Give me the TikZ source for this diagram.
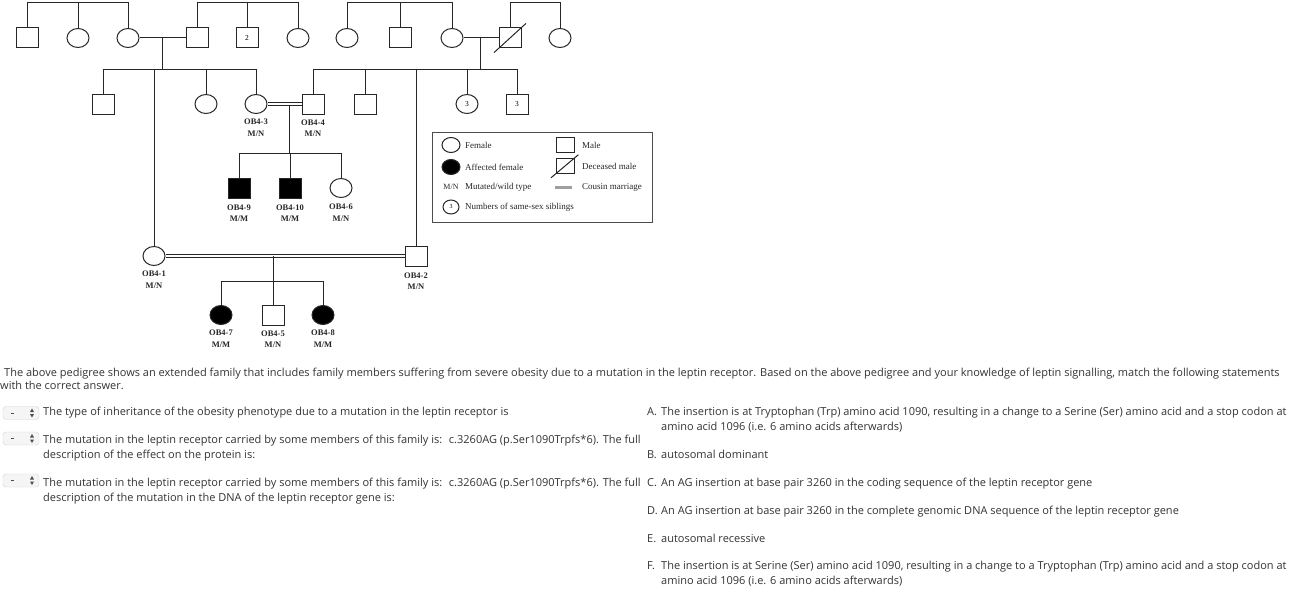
\documentclass[tikz,border=0pt]{standalone}
\usepackage{fontspec}
\setmainfont{Liberation Serif}
\newfontfamily\qfont{Open Sans}
\usetikzlibrary{shapes.geometric,positioning}

\tikzset{
  ped/.style={line width=1pt, draw=black!85},
  male/.style={ped, rectangle, minimum width=22pt, minimum height=20pt, inner sep=0pt, font=\fontsize{7.5}{8}\selectfont},
  female/.style={ped, ellipse, minimum width=22pt, minimum height=19pt, inner sep=0pt, font=\fontsize{7.5}{8}\selectfont},
  affected/.style={fill=black},
  cousin/.style={draw=black!85, double, double distance=1.6pt, line width=0.8pt},
  idlabel/.style={font=\bfseries\fontsize{8.5}{11.5}\selectfont, align=center, inner sep=0pt, text=black!85},
  lgshape/.style={minimum width=18pt, minimum height=15pt},
  lgtext/.style={anchor=west, inner sep=0pt, font=\fontsize{9}{10}\selectfont, text=black!85},
  qtext/.style={anchor=base west, inner sep=0pt, font=\qfont\fontsize{11}{13}\selectfont, text=black!80},
  dropbox/.style={draw=gray!35, fill=gray!8, rounded corners=3pt, minimum width=36pt, minimum height=13pt, inner sep=0pt}
}

\begin{document}
\begin{tikzpicture}[x=1pt, y=-1pt]
    \useasboundingbox (0,0) rectangle (1301,602);

    % Generation I
    \node[male]   (a1) at (27,38) {};
    \node[female] (a2) at (78,38) {};
    \node[female] (a3) at (128,38) {};
    \node[male]   (b1) at (197,38) {};
    \node[male]   (b2) at (247,38) {2};
    \node[female] (b3) at (298,38) {};
    \node[female] (c1) at (347,38) {};
    \node[male]   (c2) at (400,38) {};
    \node[female] (c3) at (452,38) {};
    \node[male]   (d1) at (510,38) {};
    \node[female] (d2) at (560,38) {};
    \draw[ped, shorten <=-6pt, shorten >=-6pt] (d1.south west) -- (d1.north east);

    % Sibships of generation I
    \draw[ped] (a1.north) -- (a1.north |- 0,3) -- (a3.north |- 0,3) -- (a3.north);
    \draw[ped] (a2.north) -- (a2.north |- 0,3);
    \draw[ped] (b1.north) -- (b1.north |- 0,3) -- (b3.north |- 0,3) -- (b3.north);
    \draw[ped] (b2.north) -- (b2.north |- 0,3);
    \draw[ped] (c1.north) -- (c1.north |- 0,3) -- (c3.north |- 0,3) -- (c3.north);
    \draw[ped] (c2.north) -- (c2.north |- 0,3);
    \draw[ped] (d1.north) -- (d1.north |- 0,3) -- (d2.north |- 0,3) -- (d2.north);

    % Marriages of generation I
    \draw[ped] (a3.east) -- (b1.west);
    \draw[ped] (c3.east) -- (d1.west);
    \coordinate (mA) at (162,38);
    \coordinate (mB) at (480,38);
    \draw[ped] (mA) -- (mA |- 0,70);
    \draw[ped] (mB) -- (mB |- 0,70);

    % Generation II
    \node[male]   (e1) at (103,104) {};
    \node[female] (e3) at (206,104) {};
    \node[female] (ob43) at (256,104) {};
    \node[male]   (ob44) at (313,104) {};
    \node[male]   (f2) at (365,104) {};
    \node[female] (f3) at (467,104) {3};
    \node[male]   (f4) at (517,104) {3};
    \node[idlabel, below=5pt of ob43] (l43) {OB4-3\\M/N};
    \node[idlabel, below=5pt of ob44] (l44) {OB4-4\\M/N};

    % OB4-1 and OB4-2
    \node[female] (ob41) at (154,256) {};
    \node[male]   (ob42) at (416,256) {};
    \node[idlabel, below=5pt of ob41] (l41) {OB4-1\\M/N};
    \node[idlabel, below=6pt of ob42] (l42) {OB4-2\\M/N};

    % Sibships of generation II
    \draw[ped] (e1.north) -- (e1.north |- 0,70) -- (ob43.north |- 0,70) -- (ob43.north);
    \draw[ped] (e3.north) -- (e3.north |- 0,70);
    \draw[ped] (ob41.north) -- (ob41.north |- 0,70);
    \draw[ped] (ob44.north) -- (ob44.north |- 0,70) -- (f4.north |- 0,70) -- (f4.north);
    \draw[ped] (f2.north) -- (f2.north |- 0,70);
    \draw[ped] (f3.north) -- (f3.north |- 0,70);
    \draw[ped] (ob42.north) -- (ob42.north |- 0,70);

    % Cousin marriages
    \draw[cousin] (ob43.east) -- (ob44.west);
    \draw[cousin] (ob41.east) -- (ob42.west);
    \coordinate (mC) at (289,105);
    \coordinate (mD) at (273,256);

    % Generation III
    \node[male, affected]   (ob49)  at (239,188) {};
    \node[male, affected]   (ob410) at (290,188) {};
    \node[female]           (ob46)  at (341,188) {};
    \node[idlabel, below=6pt of ob49]  (l49)  {OB4-9\\M/M};
    \node[idlabel, below=6pt of ob410] (l410) {OB4-10\\M/M};
    \node[idlabel, below=6pt of ob46]  (l46)  {OB4-6\\M/N};
    \draw[ped] (mC) -- (mC |- 0,153);
    \draw[ped] (ob49.north) -- (ob49.north |- 0,153) -- (ob46.north |- 0,153) -- (ob46.north);
    \draw[ped] (ob410.north) -- (ob410.north |- 0,153);

    \node[female, affected] (ob47) at (221,315) {};
    \node[male]             (ob45) at (273,315) {};
    \node[female, affected] (ob48) at (323,315) {};
    \node[idlabel, below=5pt of ob47] (l47) {OB4-7\\M/M};
    \node[idlabel, below=5pt of ob45] (l45) {OB4-5\\M/N};
    \node[idlabel, below=5pt of ob48] (l48) {OB4-8\\M/M};
    \draw[ped] (mD) -- (mD |- 0,281);
    \draw[ped] (ob47.north) -- (ob47.north |- 0,281) -- (ob48.north |- 0,281) -- (ob48.north);
    \draw[ped] (ob45.north) -- (ob45.north |- 0,281);

    % Legend
    \node[ped, line width=1.3pt, draw=black!70, anchor=north west, minimum width=220pt, minimum height=90pt] (legend) at (432,132) {};
    \node[female, lgshape] (lgF) at (451,145) {};
    \node[lgtext] (tF) at (465,145) {Female};
    \node[male, lgshape] (lgM) at (565,145) {};
    \node[lgtext] (tM) at (582,145) {Male};
    \node[female, lgshape, affected] (lgA) at (451,167) {};
    \node[lgtext] (tA) at (465,167) {Affected female};
    \node[male, lgshape] (lgD) at (565,166) {};
    \draw[ped, shorten <=-6pt, shorten >=-5pt] (lgD.south west) -- (lgD.north east);
    \node[lgtext] (tD) at (582,166) {Deceased male};
    \node[font=\fontsize{8}{9}\selectfont, inner sep=0pt, text=black!85] (lgMN) at (451,187) {M/N};
    \node[lgtext] (tMN) at (465,187) {Mutated/wild type};
    \coordinate (lgC1) at (555,187);
    \coordinate (lgC2) at (572,187);
    \draw[gray!75, line width=3pt] (lgC1) -- (lgC2);
    \node[lgtext] (tC) at (582,187) {Cousin marriage};
    \node[female, minimum width=16pt, minimum height=14pt, font=\fontsize{6}{7}\selectfont] (lgS) at (451,207) {3};
    \node[lgtext] (tS) at (465,207) {Numbers of same-sex siblings};

    % Question text
    \node[qtext] (intro1) at (4,376) {The above pedigree shows an extended family that includes family members suffering from severe obesity due to a mutation in the leptin receptor. Based on the above pedigree and your knowledge of leptin signalling, match the following statements};
    \node[qtext] (intro2) at (0,389) {with the correct answer.};

    % Drop-down boxes
    \foreach \n/\y in {1/413, 2/438.5, 3/480.5} {
        \node[dropbox] (dd\n) at (21,\y) {};
        \draw[black!70, line width=0.9pt] (10.5,\y) -- (13.5,\y);
        \fill[black!70] (30,\y-1) -- (34,\y-1) -- (32,\y-4.5) -- cycle;
        \fill[black!70] (30,\y+1) -- (34,\y+1) -- (32,\y+4.5) -- cycle;
    }

    % Statements
    \node[qtext] (q1)  at (43,415) {The type of inheritance of the obesity phenotype due to a mutation in the leptin receptor is};
    \node[qtext] (q2a) at (43,443) {The mutation in the leptin receptor carried by some members of this family is:~ c.3260AG (p.Ser1090Trpfs*6). The full};
    \node[qtext] (q2b) at (43,458) {description of the effect on the protein is:};
    \node[qtext] (q3a) at (43,486) {The mutation in the leptin receptor carried by some members of this family is:~ c.3260AG (p.Ser1090Trpfs*6). The full};
    \node[qtext] (q3b) at (43,501) {description of the mutation in the DNA of the leptin receptor gene is:};

    % Answers
    \foreach \k/\y in {A/415, B/458, C/486, D/514, E/542, F/569}
        \node[qtext] (let\k) at (647,\y) {\k.};
    \node[qtext] (optA)  at (661,415) {The insertion is at Tryptophan (Trp) amino acid 1090, resulting in a change to a Serine (Ser) amino acid and a stop codon at};
    \node[qtext] (optA2) at (661,430) {amino acid 1096 (i.e. 6 amino acids afterwards)};
    \node[qtext] (optB)  at (661,458) {autosomal dominant};
    \node[qtext] (optC)  at (661,486) {An AG insertion at base pair 3260 in the coding sequence of the leptin receptor gene};
    \node[qtext] (optD)  at (661,514) {An AG insertion at base pair 3260 in the complete genomic DNA sequence of the leptin receptor gene};
    \node[qtext] (optE)  at (661,542) {autosomal recessive};
    \node[qtext] (optF)  at (661,569) {The insertion is at Serine (Ser) amino acid 1090, resulting in a change to a Tryptophan (Trp) amino acid and a stop codon at};
    \node[qtext] (optF2) at (661,584) {amino acid 1096 (i.e. 6 amino acids afterwards)};
\end{tikzpicture}
\end{document}
